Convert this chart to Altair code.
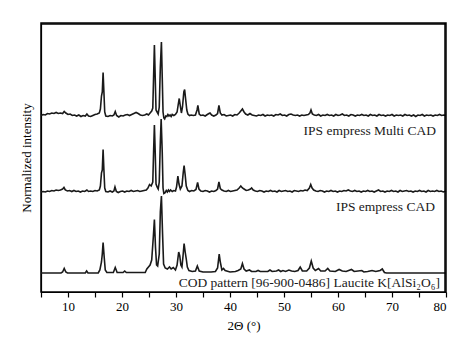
import altair as alt
import pandas as pd

# --- data (2theta in degrees, intensity in arbitrary units, traces offset) ---
multi_cad = [
    (5.0,176.5),(5.4,177.5),(5.8,177),(6.2,178.5),(6.6,178),(7.0,179),(7.4,178.5),(7.8,179.5),(8.2,178.5),(8.6,179),
    (9.0,178.5),(9.3,180.5),(9.6,179),(10.0,177.5),(10.4,178),(10.8,176.5),(11.2,177),(11.6,176),(12.0,177),(12.4,175.5),
    (12.8,176.5),(13.2,176),(13.5,178),(13.8,176),(14.2,175.5),(14.6,176.5),(15.0,177.5),(15.4,178),(15.8,179),(16.0,183),
    (16.2,196),(16.35,200),(16.5,219.5),(16.65,200),(16.8,180),(17.0,176),(17.4,175.5),(17.8,176.5),(18.2,176),(18.5,177),
    (18.75,180.5),(19.0,176.5),(19.4,175),(19.8,176.5),(20.2,176),(20.6,177),(21.0,177.5),(21.4,176.5),(21.8,177.5),(22.2,178.5),
    (22.6,179.5),(23.0,178.5),(23.4,177),(23.8,176.5),(24.2,177),(24.6,178),(24.9,177),(25.2,179),(25.5,181),(25.7,184),
    (25.85,215),(26.0,247),(26.15,215),(26.3,182),(26.5,180),(26.7,178),(26.9,185),(27.1,225),(27.3,250),(27.45,215),
    (27.6,180),(27.75,174),(27.9,173),(28.1,176),(28.3,175.5),(28.5,177.5),(28.7,176),(28.9,177),(29.1,175.5),(29.3,177.5),
    (29.6,176.5),(29.9,177.5),(30.2,180),(30.4,187),(30.6,193.5),(30.8,186),(31.0,179),(31.2,185),(31.45,200),(31.6,202.5),
    (31.8,192),(32.0,182),(32.2,178),(32.5,176.5),(32.8,177),(33.2,176.5),(33.6,177),(33.9,182),(34.05,186.5),(34.3,178),
    (34.6,176.5),(35.0,177),(35.4,176),(35.8,177.5),(36.1,178.5),(36.3,179),(36.6,177),(37.0,176),(37.4,177),(37.7,178.5),
    (37.95,186.5),(38.2,179),(38.5,177),(38.9,177.5),(39.3,176),(39.7,176.5),(40.1,177),(40.5,176),(40.9,177.5),(41.3,177),
    (41.7,179),(42.0,181),(42.3,183),(42.6,180),(42.9,178),(43.3,177),(43.7,178.5),(44.1,177),(44.5,176.5),(44.9,176),
    (45.3,177),(45.7,176.5),(46.1,177.5),(46.5,176),(46.9,177),(47.3,176.5),(47.7,177),(48.1,176),(48.5,177.5),(48.9,177),
    (49.3,178),(49.7,176.5),(50.1,177),(50.5,176),(50.9,177.5),(51.3,178),(51.7,177),(52.1,176.5),(52.5,177),(52.9,176),
    (53.3,177),(53.7,176.5),(54.1,177),(54.5,177.5),(54.8,179),(55.0,182),(55.25,178),(55.6,177),(56.0,176.5),(56.4,177.5),
    (56.8,176),(57.2,177),(57.6,176.5),(58.0,177.5),(58.4,176.5),(58.8,177),(59.2,176),(59.6,177.5),(60.0,176.5),(60.4,177),
    (60.8,178),(61.2,176.5),(61.6,177),(62.0,176),(62.4,177.5),(62.8,177),(63.2,176),(63.6,177),(64.0,176.5),(64.4,177.5),
    (64.8,176.5),(65.2,177),(65.6,176),(66.0,177.5),(66.4,176.5),(66.8,177),(67.2,176),(67.6,177.5),(68.0,176.5),(68.4,177),
    (68.8,176),(69.2,177),(69.6,176.5),(70.0,177.5),(70.4,176),(70.8,177),(71.2,176.5),(71.6,177),(72.0,176),(72.4,177.5),
    (72.8,176.5),(73.2,177),(73.6,176),(74.0,177),(74.4,175.5),(74.8,177),(75.2,176.5),(75.6,177.5),(76.0,176),(76.4,177),
    (76.8,176.5),(77.2,177),(77.6,176),(78.0,177),(78.4,176.5),(78.8,177.5),(79.2,176.5),(79.6,177),(80.0,176.5),
]

cad = [
    (5.0,100),(5.4,100.5),(5.8,100),(6.2,101),(6.6,100.5),(7.0,101.5),(7.4,101),(7.8,102),(8.2,101.5),(8.6,102),
    (9.0,103),(9.25,104.5),(9.5,102),(9.9,101),(10.3,101.5),(10.7,100.5),(11.1,101.5),(11.5,100.5),(11.9,101),(12.3,100),
    (12.7,101),(13.1,100.5),(13.5,102),(13.8,100.5),(14.2,101),(14.6,100.5),(15.0,101.5),(15.4,101),(15.8,102),(16.0,106),
    (16.2,119),(16.35,122),(16.5,142.5),(16.65,122),(16.8,104),(17.0,100.5),(17.4,100),(17.8,101),(18.2,100),(18.5,101),
    (18.7,105),(18.95,100.5),(19.3,99.5),(19.7,100.5),(20.1,101),(20.5,100),(20.9,101),(21.3,100.5),(21.7,101.5),(22.1,100.5),
    (22.5,101),(22.9,101.5),(23.3,100.5),(23.7,101),(24.1,101.5),(24.5,102),(24.8,104),(25.1,107.5),(25.4,106),(25.7,110),
    (25.85,140),(26.0,167),(26.15,140),(26.3,108),(26.5,105),(26.7,103),(26.9,110),(27.1,150),(27.25,173),(27.45,140),
    (27.6,104),(27.75,98.5),(27.95,99),(28.2,101.5),(28.4,100),(28.6,102),(28.8,100.5),(29.0,102),(29.3,100.5),(29.6,101.5),
    (29.9,101),(30.1,105),(30.35,116),(30.55,108),(30.8,103),(31.1,106),(31.35,120),(31.5,126.5),(31.7,117),(31.9,106),
    (32.2,101.5),(32.5,100.5),(32.9,101.5),(33.3,101),(33.7,102.5),(34.0,109.5),(34.25,103),(34.6,101),(35.0,100.5),(35.4,101.5),
    (35.8,101),(36.2,100),(36.6,101),(37.0,100.5),(37.4,101.5),(37.7,103),(37.95,110),(38.2,103.5),(38.5,102),(38.9,101),
    (39.3,100.5),(39.7,101.5),(40.1,100.5),(40.5,101),(40.9,101.5),(41.3,102),(41.7,104),(42.0,106),(42.3,104),(42.6,103),
    (43.0,101.5),(43.4,102),(43.8,103),(44.0,104),(44.3,102),(44.7,101),(45.1,100.5),(45.5,101.5),(45.9,101),(46.3,100),
    (46.7,101),(47.1,100.5),(47.5,101.5),(47.9,100.5),(48.3,101),(48.7,100),(49.1,101.5),(49.5,100.5),(49.9,101),(50.3,101.5),
    (50.7,100.5),(51.1,101),(51.5,100),(51.9,101.5),(52.3,101),(52.7,100.5),(53.1,101.5),(53.5,101),(53.9,102),(54.3,101.5),
    (54.7,104),(54.95,107.5),(55.2,104),(55.5,102),(55.9,101),(56.3,100.5),(56.7,101.5),(57.1,101),(57.5,100),(57.9,101),
    (58.3,100.5),(58.7,101.5),(59.1,100.5),(59.5,101),(59.9,100),(60.3,101),(60.7,100.5),(61.1,101.5),(61.5,101),(61.9,102),
    (62.3,101),(62.7,100.5),(63.1,101.5),(63.5,100.5),(63.9,101),(64.3,100),(64.7,101),(65.1,100.5),(65.5,101.5),(65.9,100.5),
    (66.3,101),(66.7,100),(67.1,101),(67.5,102),(67.9,100.5),(68.3,101),(68.7,100),(69.1,101),(69.5,100.5),(69.9,101.5),
    (70.3,100.5),(70.7,101),(71.1,100),(71.5,101.5),(71.9,100.5),(72.3,101),(72.7,101.5),(73.1,100.5),(73.5,101),(73.9,100),
    (74.3,101),(74.7,100.5),(75.1,101.5),(75.5,100.5),(75.9,101),(76.3,100),(76.7,101.5),(77.1,100.5),(77.5,101),(77.9,100.5),
    (78.3,101.5),(78.7,100.5),(79.1,101),(79.5,100),(80.0,101),
]

cod = [
    (5.0,19),(8.7,19),(9.0,20),(9.3,23.5),(9.6,20),(9.9,19),(13.2,19),(13.45,21),(13.7,19),(15.6,19),
    (15.9,22),(16.2,30),(16.35,38),(16.5,49.5),(16.7,35),(16.9,22),(17.2,19.5),(18.4,19.5),(18.75,24.5),(19.1,19.5),
    (20.2,19.5),(20.5,21),(20.8,19.5),(24.3,19.5),(24.6,23),(24.9,25),(25.2,27),(25.5,32),(25.8,55),(26.0,72.5),
    (26.2,45),(26.4,27),(26.6,26),(26.9,38),(27.1,80),(27.3,96),(27.5,60),(27.7,28),(28.0,24),(28.4,23),
    (28.8,25),(29.1,23),(29.5,24.5),(29.9,22),(30.2,27),(30.5,40),(30.7,36),(30.9,27),(31.1,25),(31.3,36),
    (31.5,48.5),(31.7,40),(31.9,33),(32.1,25),(32.4,21.5),(33.0,20.5),(33.6,21),(33.95,26),(34.3,21),(35.0,20),
    (36.5,20),(37.3,20.5),(37.7,24),(38.0,38),(38.2,30),(38.5,22),(38.8,23.5),(39.1,21.5),(40.0,20),(41.0,20.5),
    (41.5,21.5),(42.0,23),(42.3,28.5),(42.6,23),(43.0,21),(43.6,22),(44.0,20.5),(44.8,20.5),(45.2,21.5),(45.6,20.5),
    (47.0,20.5),(47.4,22),(47.8,20.5),(48.6,21),(49.0,22),(49.4,20.5),(49.8,21.5),(50.3,20.5),(50.9,22),(51.4,21),
    (52.0,20.5),(52.6,21.5),(53.0,25),(53.4,21),(54.2,21),(54.7,24),(55.05,31),(55.4,24),(55.8,21.5),(56.4,23.5),
    (56.8,21),(57.6,21),(58.1,23.5),(58.5,21),(59.5,20.5),(60.2,22.5),(60.8,21),(61.5,20.5),(62.5,22.5),(63.0,20.5),
    (64.4,21.5),(64.8,20),(65.5,20.5),(66.3,21.5),(67.0,20.5),(67.8,21.5),(68.2,23),(68.6,19.5),(69.0,19),(80.0,19),
]

series_names = ["IPS empress Multi CAD", "IPS empress CAD", "COD pattern [96-900-0486] Laucite K[AlSi₂O₆]"]
x_tick_values = [5, 10, 15, 20, 25, 30, 35, 40, 45, 50, 55, 60, 65, 70, 75, 80]

rows = []
for name, pts in zip(series_names, [multi_cad, cad, cod]):
    for tt, yy in pts:
        rows.append({"series": name, "two_theta": tt, "intensity": yy})
df = pd.DataFrame(rows)

FONT = "Liberation Serif"
INK = "black"
W, H = 405, 269

x_enc = alt.X(
    "two_theta:Q",
    scale=alt.Scale(domain=[5, 80], nice=False),
    axis=alt.Axis(
        title="2Θ (°)",
        values=x_tick_values,
        labelExpr="datum.value % 10 == 0 && datum.value > 5 ? datum.label : ''",
        gridOpacity=0,
        domainColor=INK, domainWidth=1.2,
        tickColor=INK, tickWidth=1.2,
        tickSize=5,
        labelFont=FONT, labelFontSize=13, labelColor=INK, labelPadding=3,
        titleFont=FONT, titleFontSize=13, titleFontWeight="normal", titleColor=INK, titlePadding=6,
    ),
)
y_enc = alt.Y(
    "intensity:Q",
    scale=alt.Scale(domain=[0, 269], nice=False),
    axis=alt.Axis(
        title="Normalized intensity",
        labels=False, ticks=False, gridOpacity=0,
        domainColor=INK, domainWidth=1.2,
        titleFont=FONT, titleFontSize=13, titleFontWeight="normal", titleColor=INK, titlePadding=8,
    ),
)

lines = alt.Chart(df).mark_line(color="#1a1a1a", strokeWidth=1.6).encode(
    x=x_enc, y=y_enc, detail="series:N"
)

frame_df = pd.DataFrame({"k": [0]})
top_rule = alt.Chart(frame_df).mark_rule(color=INK, strokeWidth=1.5).encode(
    x=alt.value(0), x2=alt.value(W), y=alt.value(1)
)
right_rule = alt.Chart(frame_df).mark_rule(color=INK, strokeWidth=1.5).encode(
    x=alt.value(W - 1), y=alt.value(0), y2=alt.value(H)
)

label_pos = [(395, 107.7), (394, 184.3), (399, 259.7)]
label_layers = []
for name, (px, py) in zip(series_names, label_pos):
    label_layers.append(
        alt.Chart(frame_df).mark_text(
            align="right", baseline="middle", font=FONT, fontSize=13.5, color="#1a1a1a"
        ).encode(x=alt.value(px), y=alt.value(py), text=alt.value(name))
    )

chart = alt.layer(lines, top_rule, right_rule, *label_layers).properties(
    width=W, height=H,
    autosize=alt.AutoSizeParams(type="none"),
    padding={"left": 41, "top": 23, "right": 28, "bottom": 67},
).configure_view(stroke="black", strokeWidth=1.5)

chart.save("out.html", embed_options={"renderer": "svg", "actions": False})
